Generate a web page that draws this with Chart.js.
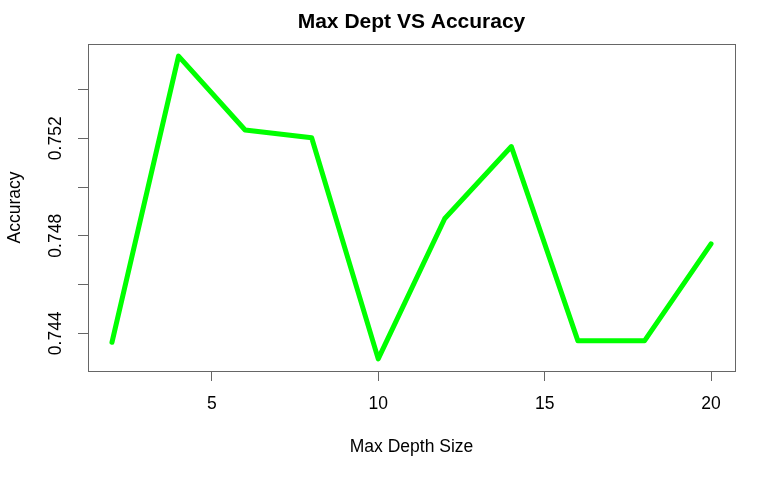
<!DOCTYPE html>
<html>
<head>
<meta charset="utf-8">
<script src="https://cdn.jsdelivr.net/npm/chart.js@4"></script>
<style>
html,body{margin:0;padding:0;background:#fff;}
#wrap{width:780px;height:480px;}
</style>
</head>
<body>
<div id="wrap"><canvas id="c" width="780" height="480"></canvas></div>
<script>
const maxDepths = [2, 4, 6, 8, 10, 12, 14, 16, 18, 20];
const accuracy = [0.74363, 0.75537, 0.75234, 0.75202, 0.74295, 0.74871, 0.75166, 0.74369, 0.74369, 0.74767];
const xTicks = [5, 10, 15, 20];
const yTicks = [0.744, 0.746, 0.748, 0.750, 0.752, 0.754];
const yTickLabels = ['0.744', '', '0.748', '', '0.752', ''];
const titleText = 'Max Dept VS Accuracy';
const xTitle = 'Max Depth Size';
const yTitle = 'Accuracy';

const FONT = '"Liberation Sans", Arial, sans-serif';

function padRange(vals) {
  const mn = Math.min(...vals), mx = Math.max(...vals);
  const d = (mx - mn) * 0.04;
  return [mn - d, mx + d];
}
const xr = padRange(maxDepths);
const yr = padRange(accuracy);

const rPlot = {
  id: 'rPlot',
  afterDraw(chart) {
    const ctx = chart.ctx, a = chart.chartArea;
    const xs = chart.scales.x, ys = chart.scales.y;
    ctx.save();
    ctx.strokeStyle = '#666';
    ctx.lineWidth = 1;
    ctx.strokeRect(Math.round(a.left) + 0.5, Math.round(a.top) + 0.5,
      Math.round(a.right - a.left), Math.round(a.bottom - a.top));
    ctx.fillStyle = '#000';
    ctx.font = '17.5px ' + FONT;
    ctx.textAlign = 'center';
    ctx.textBaseline = 'middle';
    xTicks.forEach(v => {
      ctx.fillText(String(v), xs.getPixelForValue(v), 404);
    });
    yTicks.forEach((v, i) => {
      if (!yTickLabels[i]) return;
      const py = ys.getPixelForValue(v);
      ctx.save();
      ctx.translate(56, py);
      ctx.rotate(-Math.PI / 2);
      ctx.fillText(yTickLabels[i], 0, 0);
      ctx.restore();
    });
    ctx.fillText(xTitle, (a.left + a.right) / 2, 447);
    ctx.save();
    ctx.translate(15, (a.top + a.bottom) / 2);
    ctx.rotate(-Math.PI / 2);
    ctx.fillText(yTitle, 0, 0);
    ctx.restore();
    ctx.font = 'bold 21px ' + FONT;
    ctx.fillText(titleText, (a.left + a.right) / 2, 22);
    ctx.restore();
  }
};

new Chart(document.getElementById('c'), {
  type: 'line',
  data: {
    datasets: [{
      data: maxDepths.map((x, i) => ({ x: x, y: accuracy[i] })),
      borderColor: '#00ff00',
      borderWidth: 5,
      pointRadius: 0,
      tension: 0,
      borderJoinStyle: 'round',
      borderCapStyle: 'round',
      fill: false
    }]
  },
  options: {
    responsive: false,
    animation: false,
    devicePixelRatio: 1,
    layout: { padding: { top: 44, right: 45, left: 0, bottom: 0 } },
    plugins: { legend: { display: false }, tooltip: { enabled: false }, title: { display: false } },
    scales: {
      x: {
        type: 'linear',
        min: xr[0], max: xr[1],
        afterBuildTicks(s) { s.ticks = xTicks.map(v => ({ value: v })); },
        afterFit(s) { s.height = 109; },
        ticks: { display: false },
        border: { display: false },
        grid: { drawOnChartArea: false, drawTicks: true, tickLength: 10, color: '#666', lineWidth: 1 }
      },
      y: {
        type: 'linear',
        min: yr[0], max: yr[1],
        afterBuildTicks(s) { s.ticks = yTicks.map(v => ({ value: v })); },
        afterFit(s) { s.width = 88; },
        ticks: { display: false },
        border: { display: false },
        grid: { drawOnChartArea: false, drawTicks: true, tickLength: 10, color: '#666', lineWidth: 1 }
      }
    }
  },
  plugins: [rPlot]
});
</script>
</body>
</html>
